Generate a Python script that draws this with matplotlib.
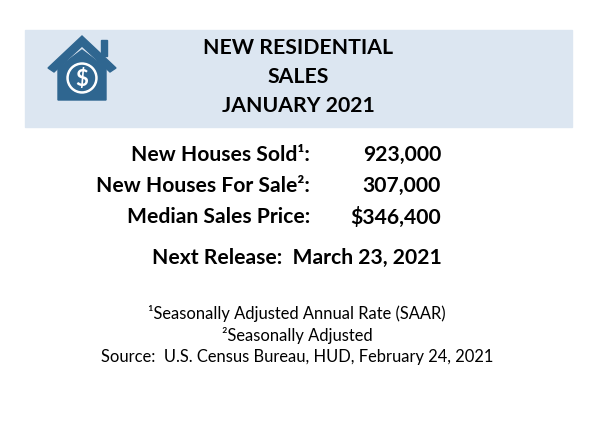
import matplotlib.pyplot as plt
from matplotlib.patches import Rectangle, Polygon, Circle

# data
title_lines = ["NEW RESIDENTIAL", "SALES", "JANUARY 2021"]
stat_labels = ["New Houses Sold¹:", "New Houses For Sale²:", "Median Sales Price:"]
stat_values = ["923,000", "307,000", "$346,400"]
next_release = "Next Release:  March 23, 2021"
footnotes = ["¹Seasonally Adjusted Annual Rate (SAAR)",
             "²Seasonally Adjusted",
             "Source:  U.S. Census Bureau, HUD, February 24, 2021"]

W, H = 597, 421
fig = plt.figure(figsize=(W / 100, H / 100), dpi=100)
ax = fig.add_axes([0, 0, 1, 1])
ax.set_xlim(0, W)
ax.set_ylim(H, 0)
ax.axis('off')
plt.rcParams['font.family'] = ['Lato', 'DejaVu Sans']

# header band
ax.add_patch(Rectangle((25, 30), 547, 97, color='#dce6f1', zorder=0))

# house icon
blue = '#2f6690'
ax.add_patch(Polygon([(48, 68), (82, 36), (116, 68), (110, 72), (82, 46), (54, 72)], color=blue))
ax.add_patch(Rectangle((101, 40), 6, 16, color=blue))
ax.add_patch(Polygon([(58, 68), (82, 50), (106, 68), (106, 100), (58, 100)], color=blue))
ax.add_patch(Circle((82, 78), 15, color='white'))
ax.add_patch(Circle((82, 78), 12.5, color=blue))
ax.text(82, 79, "$", color='white', fontsize=16, ha='center', va='center', fontweight='bold')

for i, line in enumerate(title_lines):
    ax.text(298, 48 + 29 * i, line, fontsize=15.3, fontweight='bold', ha='center', va='center')

for i, (lab, val) in enumerate(zip(stat_labels, stat_values)):
    y = 155 + 31 * i
    ax.text(310, y, lab, fontsize=15.2, fontweight='bold', ha='right', va='center')
    ax.text(441, y, val, fontsize=15.2, fontweight='bold', ha='right', va='center')

ax.text(297, 258, next_release, fontsize=15.2, fontweight='bold', ha='center', va='center')

for i, line in enumerate(footnotes):
    ax.text(297, 314 + 21.5 * i, line, fontsize=11.9, ha='center', va='center')

fig.savefig('out.png', dpi=100, facecolor='white')
